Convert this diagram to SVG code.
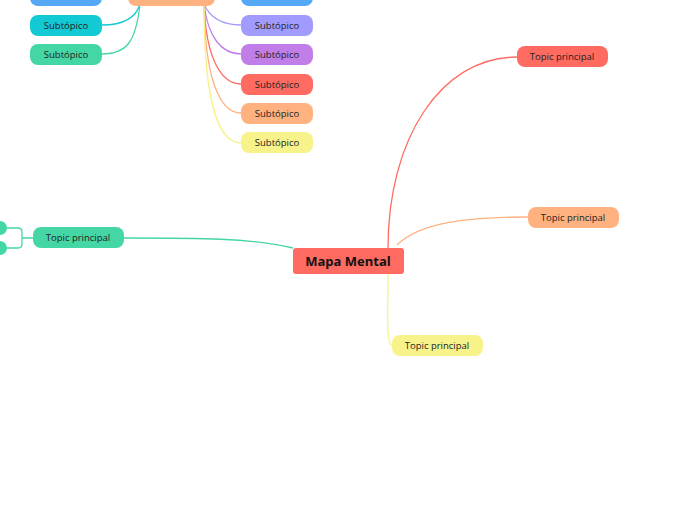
<svg xmlns="http://www.w3.org/2000/svg" width="696" height="520" viewBox="0 0 696 520">
<style>
text{font-family:"Open Sans","Noto Sans",sans-serif;font-size:9.5px;fill:#222;text-anchor:middle;dominant-baseline:central}
.c{fill:none;stroke-width:1.3}
.t{font-size:13px;font-weight:bold;fill:#111}
</style>
<rect width="696" height="520" fill="#fff"/>
<g id="connectors">
<path class="c" stroke="#FF6B61" d="M388,248 C388,140 440,57 517,57"/>
<path class="c" stroke="#FFB27F" d="M397,245 C420,222 470,217 528,217"/>
<path class="c" stroke="#F8F28A" d="M388,274 C388,310 386,345 392,345"/>
<path class="c" stroke="#45D6A6" d="M293,248 C250,238 200,238 124,238"/>
<path class="c" stroke="#45D6A6" d="M33,238 H22 V232 Q22,228 18,228 H4 M22,238 V244 Q22,248 18,248 H4"/>
<path class="c" stroke="#12C9D4" d="M140,4 C136,18 124,25 102,25"/>
<path class="c" stroke="#45D6A6" d="M140,4 C136,40 128,54 102,54"/>
<path class="c" stroke="#A29BFE" d="M204,4 C210,18 222,25 241,25"/>
<path class="c" stroke="#C27EE8" d="M204,4 C208,38 222,54 241,54"/>
<path class="c" stroke="#FF6B61" d="M204,4 C206,60 222,84 241,84"/>
<path class="c" stroke="#FFB27F" d="M204,4 C205,80 220,113 241,113"/>
<path class="c" stroke="#F8F28A" d="M204,4 C204,100 218,143 241,143"/>
</g>
<g id="central"><rect x="293" y="248" width="111" height="26" rx="3" fill="#FF6B61"/><text class="t" x="348" y="261">Mapa Mental</text></g>
<g id="t1"><rect x="517" y="46" width="91" height="21" rx="8" fill="#FF6B61"/><text x="562" y="56.5">Topic principal</text></g>
<g id="t2"><rect x="528" y="207" width="91" height="21" rx="8" fill="#FFB27F"/><text x="573" y="217.5">Topic principal</text></g>
<g id="t3"><rect x="392" y="335" width="91" height="21" rx="8" fill="#F8F28A"/><text x="437" y="345.5">Topic principal</text></g>
<g id="t4"><rect x="33" y="227" width="91" height="21" rx="8" fill="#45D6A6"/><text x="78" y="237.5">Topic principal</text></g>
<g id="c1"><circle cx="0" cy="228" r="7" fill="#45D6A6"/></g>
<g id="c2"><circle cx="0" cy="248" r="7" fill="#45D6A6"/></g>
<g id="t5"><rect x="128" y="-15" width="87" height="21" rx="8" fill="#FFB27F"/></g>
<g id="s1"><rect x="30" y="-15" width="72" height="21" rx="8" fill="#54A8F5"/></g>
<g id="s2"><rect x="30" y="15" width="72" height="21" rx="8" fill="#12C9D4"/><text x="66" y="25.5">Subtópico</text></g>
<g id="s3"><rect x="30" y="44" width="72" height="21" rx="8" fill="#45D6A6"/><text x="66" y="54.5">Subtópico</text></g>
<g id="s4"><rect x="241" y="-15" width="72" height="21" rx="8" fill="#54A8F5"/></g>
<g id="s5"><rect x="241" y="15" width="72" height="21" rx="8" fill="#A29BFE"/><text x="277" y="25.5">Subtópico</text></g>
<g id="s6"><rect x="241" y="44" width="72" height="21" rx="8" fill="#C27EE8"/><text x="277" y="54.5">Subtópico</text></g>
<g id="s7"><rect x="241" y="74" width="72" height="21" rx="8" fill="#FF6B61"/><text x="277" y="84.5">Subtópico</text></g>
<g id="s8"><rect x="241" y="103" width="72" height="21" rx="8" fill="#FFB27F"/><text x="277" y="113.5">Subtópico</text></g>
<g id="s9"><rect x="241" y="132" width="72" height="21" rx="8" fill="#F8F28A"/><text x="277" y="142.5">Subtópico</text></g>
</svg>
